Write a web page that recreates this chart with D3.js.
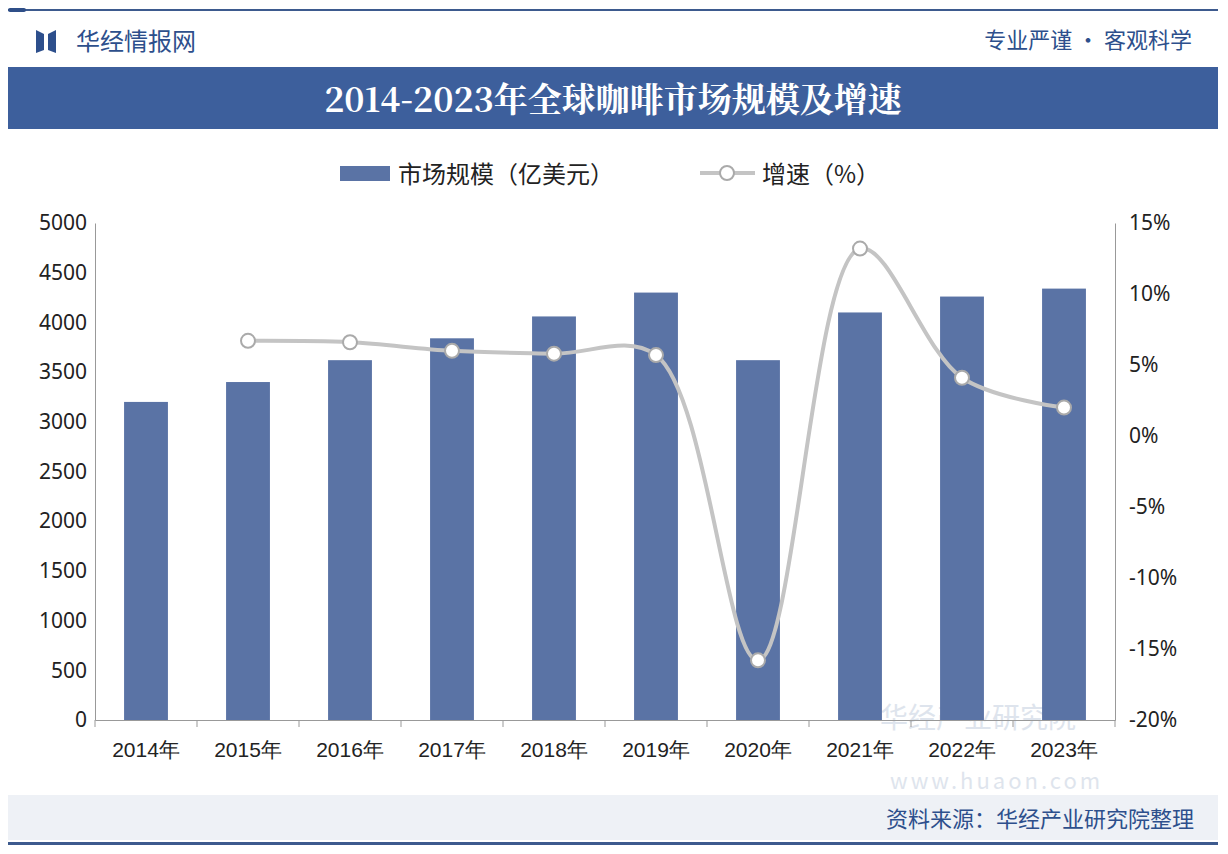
<!DOCTYPE html>
<html><head><meta charset="utf-8">
<script src="https://cdn.jsdelivr.net/npm/d3@7"></script>
<style>body{margin:0;background:#fff;}svg{display:block;font-family:"Noto Sans CJK SC","Noto Sans",sans-serif;}</style>
</head><body>
<script>
const years = ["2014年","2015年","2016年","2017年","2018年","2019年","2020年","2021年","2022年","2023年"];
const marketSize = [3200, 3400, 3620, 3840, 4060, 4300, 3620, 4100, 4260, 4340];
const growthYears = years.slice(1);
const growth = [6.7, 6.6, 6.0, 5.8, 5.7, -15.8, 13.2, 4.1, 2.0];
const leftTicks = d3.range(0, 5001, 500);
const rightTicks = d3.range(-20, 16, 5);

const W = 1228, H = 854;
const svg = d3.select("body").append("svg").attr("width", W).attr("height", H);

// header
svg.append("rect").attr("x", 8).attr("y", 9).attr("width", 1210).attr("height", 2).attr("fill", "#3d5a8e");
svg.append("rect").attr("x", 8).attr("y", 8).attr("width", 18).attr("height", 4).attr("rx", 2).attr("fill", "#2f4f88");
svg.append("path").attr("d", "M36,30 L44,34 L44,50 L36,53 Z M48,34 L56,30 L56,53 L48,50 Z").attr("fill", "#2d4f8c");
svg.append("text").attr("x", 76).attr("y", 50).attr("font-size", 24).attr("fill", "#2d4f8c").text("华经情报网");
svg.append("text").attr("x", 1192).attr("y", 48).attr("text-anchor", "end").attr("font-size", 22).attr("fill", "#2d4f8c").text("专业严谨 • 客观科学");
svg.append("rect").attr("x", 8).attr("y", 67).attr("width", 1210).attr("height", 62).attr("fill", "#3d5f9c");
svg.append("text").attr("x", 613).attr("y", 112).attr("text-anchor", "middle").attr("font-size", 34).attr("font-weight", "bold")
  .attr("font-family", "'Noto Serif CJK SC','DejaVu Serif',serif").attr("fill", "#fff").text("2014-2023年全球咖啡市场规模及增速");

// footer
svg.append("rect").attr("x", 8).attr("y", 795).attr("width", 1210).attr("height", 45).attr("fill", "#eef1f6");
svg.append("rect").attr("x", 8).attr("y", 842).attr("width", 1210).attr("height", 3).attr("fill", "#3d5a8e");
svg.append("text").attr("x", 1194).attr("y", 827).attr("text-anchor", "end").attr("font-size", 22).attr("fill", "#2d4f8c").text("资料来源：华经产业研究院整理");

// watermark
svg.append("text").attr("x", 880).attr("y", 728).attr("font-size", 28).attr("fill", "#c9d3e2").attr("opacity", 0.6).text("华经产业研究院");
svg.append("text").attr("x", 890).attr("y", 789).attr("font-size", 22).attr("fill", "#c9d3e2").attr("opacity", 0.6).attr("letter-spacing", 3).text("www.huaon.com");

const x0 = 95, x1 = 1115, yTop = 223, yBot = 720;
const x = d3.scaleBand().domain(years).range([x0, x1]).paddingInner(0.57).paddingOuter(0.285);
const y = d3.scaleLinear().domain([0, 5000]).range([yBot, yTop]);
const y2 = d3.scaleLinear().domain([-20, 15]).range([yBot, yTop]);

const axL = svg.append("g").attr("transform", `translate(${x0},0)`)
  .call(d3.axisLeft(y).tickValues(leftTicks).tickSize(0).tickPadding(20).tickFormat(d3.format("d")));
const axR = svg.append("g").attr("transform", `translate(${x1},0)`)
  .call(d3.axisRight(y2).tickValues(rightTicks).tickSize(0).tickPadding(14).tickFormat(d => d + "%"));
[axL, axR].forEach(a => {
  a.select(".domain").attr("stroke", "#999");
  a.selectAll("text").attr("font-size", 21).attr("fill", "#222").attr("font-family", "'Noto Sans','DejaVu Sans',sans-serif");
});
axL.selectAll("text").attr("dx", 12);

const band = x.step();
const axB = svg.append("g").attr("transform", `translate(0,${yBot})`)
  .call(d3.axisBottom(x).tickSize(0).tickPadding(22));
axB.select(".domain").attr("stroke", "#999");
axB.selectAll("text").attr("font-size", 21).attr("fill", "#222");
axB.selectAll(".tk").data(d3.range(years.length + 1)).enter().append("line")
  .attr("x1", i => x0 + i * band).attr("x2", i => x0 + i * band).attr("y1", 0).attr("y2", 7).attr("stroke", "#999");

svg.selectAll(".bar").data(marketSize).enter().append("rect")
  .attr("x", (d, i) => x(years[i])).attr("y", d => y(d))
  .attr("width", x.bandwidth()).attr("height", d => yBot - y(d)).attr("fill", "#5a73a5");

const cx = d => x(d) + x.bandwidth() / 2;
const line = d3.line().x((d, i) => cx(growthYears[i])).y(d => y2(d)).curve(d3.curveCatmullRom.alpha(0.5));
svg.append("path").datum(growth).attr("d", line).attr("fill", "none").attr("stroke", "#c4c4c4").attr("stroke-width", 4);
svg.selectAll(".pt").data(growth).enter().append("circle")
  .attr("cx", (d, i) => cx(growthYears[i])).attr("cy", d => y2(d)).attr("r", 7)
  .attr("fill", "#fff").attr("stroke", "#aaa").attr("stroke-width", 2);

// legend
svg.append("rect").attr("x", 340).attr("y", 166).attr("width", 50).attr("height", 15).attr("fill", "#5a73a5");
svg.append("text").attr("x", 398).attr("y", 183).attr("font-size", 24).attr("fill", "#222").text("市场规模（亿美元）");
svg.append("line").attr("x1", 700).attr("x2", 755).attr("y1", 173).attr("y2", 173).attr("stroke", "#c4c4c4").attr("stroke-width", 4);
svg.append("circle").attr("cx", 727).attr("cy", 173).attr("r", 7).attr("fill", "#fff").attr("stroke", "#aaa").attr("stroke-width", 2);
svg.append("text").attr("x", 762).attr("y", 183).attr("font-size", 24).attr("fill", "#222").text("增速（%）");
</script>
</body></html>
